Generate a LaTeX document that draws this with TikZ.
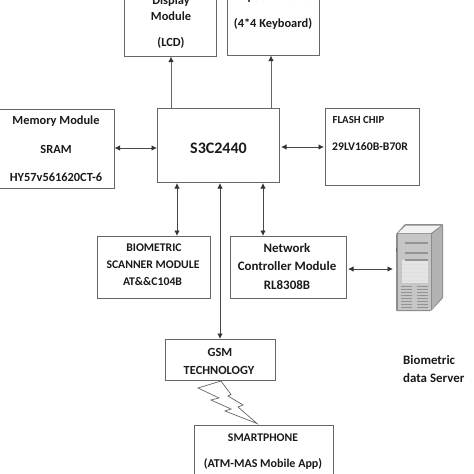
\documentclass[tikz,border=0pt]{standalone}
\usepackage{fontspec}
\setmainfont{Carlito}
\usetikzlibrary{arrows.meta}
\definecolor{ln}{HTML}{666666}
\definecolor{tx}{HTML}{1A1A1A}
\tikzset{
 x=1pt,y=-1pt,
 boxn/.style={draw=ln,line width=0.9pt,fill=white},
 lab/.style={text=tx,font=\bfseries\fontsize{12.4}{14}\selectfont,inner sep=0pt,anchor=center},
 labs/.style={lab,font=\bfseries\fontsize{11.7}{14}\selectfont},
 biarrow/.style={draw=ln!70!black,line width=0.9pt,{Latex[length=5.5pt,width=5.5pt,black!80]}-{Latex[length=5.5pt,width=5.5pt,black!80]}},
 oneway/.style={draw=ln,line width=0.9pt,-{Latex[length=5.5pt,width=5.5pt,black!80]}},
}
\begin{document}
\begin{tikzpicture}
\useasboundingbox (0,0) rectangle (474,474);
\clip (0,0) rectangle (474,474);
\fill[white] (0,0) rectangle (474,474);
% boxes
\node[boxn,minimum width=91.5pt,minimum height=86pt,inner sep=0pt] (disp) at (170.25,13) {};
\node[boxn,minimum width=91.5pt,minimum height=85pt,inner sep=0pt] (inp) at (273.25,12.5) {};
\node[boxn,minimum width=122pt,minimum height=74pt,inner sep=0pt] (cpu) at (218,145.5) {};
\node[boxn,minimum width=116.5pt,minimum height=79pt,inner sep=0pt] (mem) at (56.25,148.5) {};
\node[boxn,minimum width=93.5pt,minimum height=77.5pt,inner sep=0pt] (flash) at (372.25,146.75) {};
\node[boxn,minimum width=113pt,minimum height=62.5pt,inner sep=0pt] (bio) at (154,267.25) {};
\node[boxn,minimum width=115.5pt,minimum height=62.5pt,inner sep=0pt] (net) at (288.25,267.25) {};
\node[boxn,minimum width=110pt,minimum height=41pt,inner sep=0pt] (gsm) at (220,360) {};
\node[boxn,minimum width=138.5pt,minimum height=64.5pt,inner sep=0pt] (phone) at (263.75,457.75) {};
\coordinate (srvL) at (393,269);
% arrows
\draw[oneway] (171,108.5) -- (171,56.5);
\draw[oneway] (271,108.5) -- (271,55.5);
\draw[biarrow] (114.5,148) -- (157,148);
\draw[biarrow] (281,147) -- (324,147);
\draw[biarrow] (177,183) -- (177,236);
\draw[biarrow] (220,183) -- (220,339);
\draw[biarrow] (263,183) -- (263,236);
\draw[biarrow] (348,269) -- (srvL);
% lightning
\draw[ln,line width=0.7pt,fill=white,line join=miter]
 (221,381) -- (198,388) -- (219,398) -- (211,400) -- (231,409) -- (225,411) -- (257,423.5)
 -- (238,407) -- (243,405) -- (228,396) -- (231,394.5) -- cycle;
% labels
\node[lab] at (171,1) {Display};
\node[lab] at (171,16.5) {Module};
\node[lab] at (171,43) {(LCD)};
\node[lab] at (273,-3) {Input Module};
\node[lab] at (273,24) {(4*4 Keyboard)};
\node[lab] at (56,121) {Memory Module};
\node[lab] at (56,149) {SRAM};
\node[lab] at (56,177.5) {HY57v561620CT-6};
\node[lab,font=\bfseries\fontsize{16}{18}\selectfont] at (218.5,148.5) {S3C2440};
\node[lab,anchor=west,font=\bfseries\fontsize{10.8}{12}\selectfont] at (332.5,119.5) {FLASH CHIP};
\node[labs,anchor=west] at (332,146.5) {29LV160B-B70R};
\node[labs] at (154,248) {BIOMETRIC};
\node[labs] at (153,264.5) {SCANNER MODULE};
\node[labs] at (152.5,281) {AT\&\&C104B};
\node[lab,font=\bfseries\fontsize{12.9}{14}\selectfont] at (287,248.5) {Network};
\node[lab,font=\bfseries\fontsize{12.9}{14}\selectfont] at (287,266) {Controller Module};
\node[lab,font=\bfseries\fontsize{12.9}{14}\selectfont] at (287,285) {RL8308B};
\node[lab] at (220,352) {GSM};
\node[lab] at (219,370) {TECHNOLOGY};
\node[labs] at (263,437.5) {SMARTPHONE};
\node[lab,font=\bfseries\fontsize{12}{14}\selectfont] at (263,464) {(ATM-MAS Mobile App)};
\node[lab,anchor=west,font=\bfseries\fontsize{12.9}{14}\selectfont] at (403,360) {Biometric};
\node[lab,anchor=west,font=\bfseries\fontsize{12.9}{14}\selectfont] at (403,378) {data Server};
% server
\fill[gray!90,rounded corners=1pt] (396,234) -- (405,224) -- (443,224) -- (443,298) -- (431,311) -- (396,311) -- cycle;
\fill[gray!10] (398,233) -- (406,225.5) -- (441,225.5) -- (431,233) -- cycle;
\fill[gray!45] (398,234) -- (431,234) -- (431,310) -- (398,310) -- cycle;
\fill[gray!60] (432,234) -- (442,226) -- (442,297) -- (432,309) -- cycle;
\fill[gray!15,opacity=0.8] (402,260) rectangle (428,283);
\fill[black!60] (395.5,248) rectangle (397,252);
\foreach \yy in {243,253,260} \draw[gray!85,line width=1.2pt] (405,\yy) -- (428,\yy);
\foreach \yy in {264,268,...,280} \draw[gray!25,line width=0.7pt] (402,\yy) -- (428,\yy);
\foreach \yy in {286,289,...,307} {\draw[gray!85,line width=0.8pt] (401,\yy) -- (412,\yy); \draw[gray!85,line width=0.8pt] (417,\yy) -- (428,\yy);}
\end{tikzpicture}
\end{document}
